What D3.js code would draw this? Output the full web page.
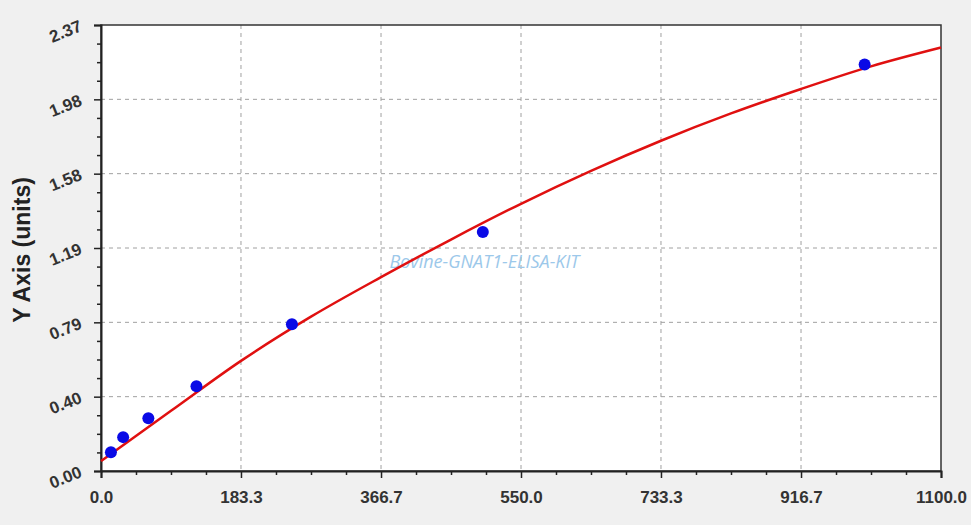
<!DOCTYPE html>
<html>
<head>
<meta charset="utf-8">
<script src="https://cdn.jsdelivr.net/npm/d3@7"></script>
<style>
  body { margin: 0; background: #f0f0f0; }
  svg { display: block; }
</style>
</head>
<body>
<div id="chart"></div>
<script>

// measured standards
var pointX = [13, 29, 62, 125, 250, 500, 1000];
var pointY = [0.10, 0.18, 0.28, 0.45, 0.78, 1.27, 2.16];

// fitted curve
var curveX = [0, 91.7, 183.3, 275, 366.7, 458.3, 550, 641.7, 733.3, 825, 916.7, 1008.3, 1100];
var curveY = [0.053, 0.32, 0.585, 0.82, 1.03, 1.23, 1.42, 1.595, 1.755, 1.90, 2.03, 2.15, 2.25];

var xTicks = [0, 183.3, 366.7, 550, 733.3, 916.7, 1100];
var xLabels = ['0.0', '183.3', '366.7', '550.0', '733.3', '916.7', '1100.0'];
var yTicks = [0, 0.395, 0.79, 1.185, 1.58, 1.975, 2.37];
var yLabels = ['0.00', '0.40', '0.79', '1.19', '1.58', '1.98', '2.37'];

var width = 971,
	height = 525,
	margin = { left: 101, right: 30, top: 25, bottom: 54 };

var innerW = width - margin.left - margin.right,
	innerH = height - margin.top - margin.bottom;

var x = d3.scaleLinear().domain([0, 1100]).range([0, innerW]);
var y = d3.scaleLinear().domain([0, 2.37]).range([innerH, 0]);

var svg = d3.select('#chart')
	.append('svg')
	.attr('width', width)
	.attr('height', height);

var g = svg.append('g')
	.attr('transform', 'translate(' + margin.left + ',' + margin.top + ')');

g.append('rect')
	.attr('width', innerW)
	.attr('height', innerH)
	.attr('fill', '#fff');

// minor tick positions, 4 steps per major
var xMinor = [], yMinor = [];
for (var i = 0; i < xTicks.length - 1; i++) {
	for (var k = 1; k < 4; k++) {
		xMinor.push(xTicks[i] + (xTicks[i + 1] - xTicks[i]) * k / 4);
		yMinor.push(yTicks[i] + (yTicks[i + 1] - yTicks[i]) * k / 4);
	}
}

// grid
g.selectAll('.vgrid')
	.data(xTicks.slice(1, -1))
	.enter()
	.append('line')
	.attr('x1', function(d){ return x(d); })
	.attr('x2', function(d){ return x(d); })
	.attr('y1', 0)
	.attr('y2', innerH)
	.attr('stroke', '#a0a0a0')
	.attr('stroke-dasharray', '4,4');

g.selectAll('.hgrid')
	.data(yTicks.slice(1, -1))
	.enter()
	.append('line')
	.attr('y1', function(d){ return y(d); })
	.attr('y2', function(d){ return y(d); })
	.attr('x1', 0)
	.attr('x2', innerW)
	.attr('stroke', '#a0a0a0')
	.attr('stroke-dasharray', '4,4');

// frame
g.append('rect')
	.attr('width', innerW)
	.attr('height', innerH)
	.attr('fill', 'none')
	.attr('stroke', '#333')
	.attr('stroke-width', 1.5);

// axes
var xAxis = g.append('g')
	.attr('transform', 'translate(0,' + innerH + ')')
	.call(d3.axisBottom(x).tickValues(xTicks).tickSize(7)
		.tickFormat(function(d, i){ return xLabels[i]; }));

g.append('g')
	.attr('transform', 'translate(0,' + innerH + ')')
	.call(d3.axisBottom(x).tickValues(xMinor).tickSize(4).tickFormat(''))
	.select('.domain').remove();

var yAxis = g.append('g')
	.call(d3.axisLeft(y).tickValues(yTicks).tickSize(7)
		.tickFormat(function(d, i){ return yLabels[i]; }));

g.append('g')
	.call(d3.axisLeft(y).tickValues(yMinor).tickSize(4).tickFormat(''))
	.select('.domain').remove();

g.selectAll('.tick line').attr('stroke', '#222').attr('stroke-width', 1.5);
g.selectAll('.domain').attr('stroke', '#222').attr('stroke-width', 2);

xAxis.selectAll('text')
	.attr('font-family', 'Liberation Sans, Arial, sans-serif')
	.attr('font-weight', 'bold')
	.attr('font-size', 17)
	.attr('fill', '#333')
	.attr('y', 32)
	.attr('dy', 0);

yAxis.selectAll('text')
	.attr('font-family', 'Liberation Sans, Arial, sans-serif')
	.attr('font-weight', 'bold')
	.attr('font-size', 17)
	.attr('fill', '#333')
	.attr('x', -18)
	.attr('y', 5)
	.attr('dy', 0)
	.attr('transform', 'rotate(-22,-18,5)');

// watermark
g.append('text')
	.attr('x', x(502))
	.attr('y', y(1.08))
	.attr('text-anchor', 'middle')
	.attr('font-family', 'Open Sans, sans-serif')
	.attr('font-style', 'italic')
	.attr('font-size', 18)
	.attr('fill', '#9cc8ea')
	.text('Bovine-GNAT1-ELISA-KIT');

// fitted curve
var curve = curveX.map(function(d, i){ return [d, curveY[i]]; });
g.append('path')
	.datum(curve)
	.attr('fill', 'none')
	.attr('stroke', '#e01010')
	.attr('stroke-width', 2.5)
	.attr('d', d3.line()
		.x(function(d){ return x(d[0]); })
		.y(function(d){ return y(d[1]); })
		.curve(d3.curveMonotoneX));

// points
g.selectAll('circle')
	.data(pointX)
	.enter()
	.append('circle')
	.attr('cx', function(d){ return x(d); })
	.attr('cy', function(d, i){ return y(pointY[i]); })
	.attr('r', 6)
	.attr('fill', '#0a0ae6');

// y axis title
svg.append('text')
	.attr('transform', 'translate(30,250) rotate(-90)')
	.attr('text-anchor', 'middle')
	.attr('font-family', 'Liberation Sans, Arial, sans-serif')
	.attr('font-weight', 'bold')
	.attr('font-size', 23)
	.attr('fill', '#222')
	.text('Y Axis (units)');

</script>
</body>
</html>
